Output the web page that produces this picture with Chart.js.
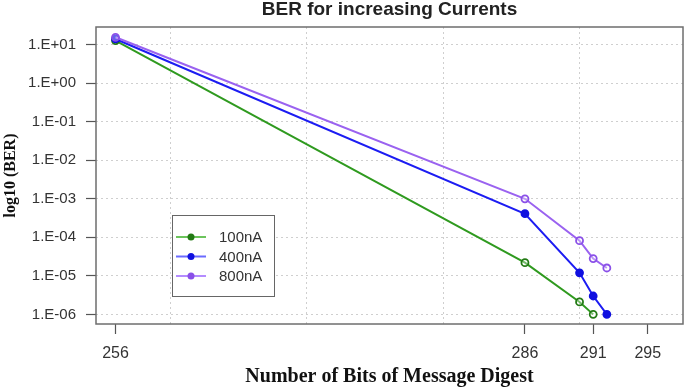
<!DOCTYPE html>
<html>
<head>
<meta charset="utf-8">
<script src="https://cdn.jsdelivr.net/npm/chart.js@4"></script>
<style>
  html, body { margin: 0; padding: 0; background: #fff; }
  #wrap { width: 685px; height: 387px; }
</style>
</head>
<body>
<div id="wrap"><canvas id="grafico"></canvas></div>
<script>
const titulo = 'BER for increasing Currents';
const nomes = ['100nA', '400nA', '800nA'];

const bits100 = [256, 286, 290, 291];
const ber100 = [12.8, 2.2e-5, 2.1e-6, 1.0e-6];

const bits400 = [256, 286, 290, 291, 292];
const ber400 = [14.1, 4.1e-4, 1.2e-5, 3.0e-6, 1.0e-6];

const bits800 = [256, 286, 290, 291, 292];
const ber800 = [15.6, 1.0e-3, 8.2e-5, 2.8e-5, 1.6e-5];

const ticksX = [256, 286, 291, 295];
const gradeX = [260, 270, 280, 290];
const ticksY = [1e1, 1e0, 1e-1, 1e-2, 1e-3, 1e-4, 1e-5, 1e-6];

const corLinha = ['#2f9a1f', '#1c1cf2', '#9a62f0'];
const corPonto = ['#237a14', '#1010e0', '#8a50e8'];
const corLegenda = ['#6cc45c', '#6b6bff', '#b48cff'];

function pontos(xs, ys) {
    return xs.map((x, i) => ({ x: x, y: ys[i] }));
}

function rotuloLog(v) {
    const e = Math.round(Math.log10(v));
    return '1.E' + (e < 0 ? '-' : '+') + String(Math.abs(e)).padStart(2, '0');
}

// fixa o tamanho dos eixos para a area do grafico ficar igual a referencia
function ajustaX(altura) {
    return s => {
        s.height = altura;
        s.paddingLeft = 0;
        s.paddingRight = 0;
    };
}

const moldura = {
    id: 'moldura',
    afterDatasetsDraw(chart) {
        const { ctx, chartArea: a } = chart;
        ctx.save();
        ctx.strokeStyle = '#6e6e6e';
        ctx.lineWidth = 1.5;
        ctx.strokeRect(a.left, a.top, a.right - a.left, a.bottom - a.top);
        ctx.restore();
    },
    afterDraw(chart) {
        const { ctx, chartArea: a } = chart;
        ctx.save();
        // titulo
        ctx.fillStyle = '#222';
        ctx.font = 'bold 19px "Liberation Sans", Arial, sans-serif';
        ctx.textAlign = 'center';
        ctx.textBaseline = 'middle';
        ctx.fillText(titulo, (a.left + a.right) / 2, 10);

        // legenda
        const bx = 172, by = 215, bw = 102, bh = 81;
        ctx.fillStyle = '#fff';
        ctx.fillRect(bx, by, bw, bh);
        ctx.strokeStyle = '#666';
        ctx.lineWidth = 1;
        ctx.strokeRect(bx + 0.5, by + 0.5, bw, bh);
        ctx.font = '15px "Liberation Sans", Arial, sans-serif';
        ctx.textAlign = 'left';
        nomes.forEach((nome, i) => {
            const y = 237 + i * 19.5;
            ctx.strokeStyle = corLegenda[i];
            ctx.lineWidth = 2;
            ctx.beginPath();
            ctx.moveTo(176, y);
            ctx.lineTo(206, y);
            ctx.stroke();
            ctx.fillStyle = corPonto[i];
            ctx.beginPath();
            ctx.arc(191, y, 3.5, 0, Math.PI * 2);
            ctx.fill();
            ctx.fillStyle = '#333';
            ctx.fillText(nome, 219, y + 1);
        });
        ctx.restore();
    }
};

const series = [
    { label: nomes[0], data: pontos(bits100, ber100), order: 3 },
    { label: nomes[1], data: pontos(bits400, ber400), order: 2 },
    { label: nomes[2], data: pontos(bits800, ber800), order: 1 }
].map((d, i) => ({
    ...d,
    borderColor: corLinha[i],
    borderWidth: 2,
    pointRadius: 3.5,
    pointBorderWidth: 1.8,
    pointBorderColor: corPonto[i],
    pointBackgroundColor: i === 1 ? corPonto[i] : 'rgba(255,255,255,0.35)',
    tension: 0
}));

new Chart(document.getElementById('grafico'), {
    type: 'line',
    data: { datasets: series },
    options: {
        responsive: true,
        maintainAspectRatio: false,
        animation: false,
        layout: { autoPadding: false, padding: { top: 27, right: 2, left: 0, bottom: 0 } },
        plugins: {
            legend: { display: false },
            tooltip: { enabled: false }
        },
        scales: {
            x: {
                type: 'linear',
                position: 'bottom',
                min: 254.57,
                max: 297.58,
                afterBuildTicks: s => { s.ticks = ticksX.map(v => ({ value: v })); },
                afterFit: ajustaX(63),
                border: { display: false },
                grid: { drawOnChartArea: false, tickLength: 10, tickColor: '#555', tickWidth: 1.2 },
                ticks: {
                    autoSkip: false,
                    maxRotation: 0,
                    padding: 10,
                    color: '#333',
                    font: { family: '"Liberation Sans", Arial, sans-serif', size: 16 },
                    callback: v => String(v)
                },
                title: {
                    display: true,
                    text: 'Number of Bits of Message Digest',
                    color: '#111',
                    padding: { top: 0, bottom: -2 },
                    font: { family: '"Liberation Serif", "Times New Roman", serif', size: 20, weight: 'bold' }
                }
            },
            xg: {
                type: 'linear',
                position: 'bottom',
                min: 254.57,
                max: 297.58,
                afterBuildTicks: s => { s.ticks = gradeX.map(v => ({ value: v })); },
                afterFit: ajustaX(0),
                border: { display: false, dash: [2, 3] },
                grid: { drawTicks: false, color: '#cfcfcf', lineWidth: 1 },
                ticks: { display: false }
            },
            y: {
                type: 'logarithmic',
                min: Math.pow(10, -6.25),
                max: Math.pow(10, 1.46),
                afterBuildTicks: s => { s.ticks = ticksY.map(v => ({ value: v })); },
                afterFit: s => { s.width = 96; s.paddingTop = 0; s.paddingBottom = 0; },
                border: { display: false, dash: [2, 3] },
                grid: { color: '#cfcfcf', lineWidth: 1, tickLength: 10, tickColor: '#555', tickWidth: 1.2, tickBorderDash: [] },
                ticks: {
                    autoSkip: false,
                    padding: 10,
                    color: '#333',
                    font: { family: '"Liberation Sans", Arial, sans-serif', size: 15 },
                    callback: v => rotuloLog(v)
                },
                title: {
                    display: true,
                    text: 'log10 (BER)',
                    color: '#111',
                    padding: { top: 1, bottom: 0 },
                    font: { family: '"Liberation Serif", "Times New Roman", serif', size: 16, weight: 'bold' }
                }
            }
        }
    },
    plugins: [moldura]
});
</script>
</body>
</html>
